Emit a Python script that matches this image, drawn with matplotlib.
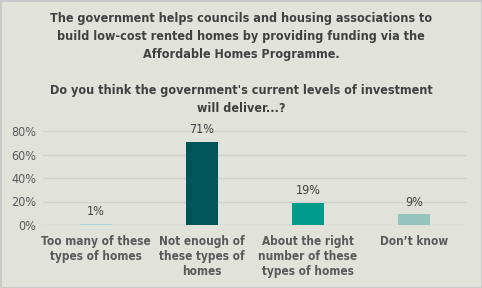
import matplotlib
matplotlib.use("Agg")
import matplotlib.pyplot as plt
from matplotlib.patches import Rectangle

categories = ["Too many of these\ntypes of homes", "Not enough of\nthese types of\nhomes",
              "About the right\nnumber of these\ntypes of homes", "Don’t know"]
values = [1, 71, 19, 9]
labels = ["1%", "71%", "19%", "9%"]
colors = ["#A9D6DA", "#00555A", "#009B8A", "#96C3BC"]
yticks = [0, 20, 40, 60, 80]
title = ("The government helps councils and housing associations to\n"
         "build low-cost rented homes by providing funding via the\n"
         "Affordable Homes Programme.\n\n"
         "Do you think the government's current levels of investment\n"
         "will deliver...?")

bg = "#E1E3DB"
plt.rcParams['font.family'] = ['DejaVu Sans']
fig = plt.figure(figsize=(4.82, 2.88), dpi=100, facecolor=bg)
fig.patches.append(Rectangle((0, 0), 1, 1, transform=fig.transFigure, fill=False,
                             edgecolor="#C8C8C8", linewidth=2))
ax = fig.add_axes([43/482, 1-225/288, 424/482, (225-131)/288*1.0])
ax.set_facecolor(bg)
x = list(range(len(values)))
ax.bar(x, values, width=0.31, color=colors, zorder=3)
ax.set_xlim(-0.5, 3.5)
ax.set_ylim(0, 80)
ax.set_yticks(yticks)
ax.set_yticklabels([f"{t}%" for t in yticks], color="#595959", fontsize=9, fontstretch='condensed')
ax.set_xticks(x)
ax.set_xticklabels(categories, color="#595959", fontsize=8.5, fontweight="bold", linespacing=1.2,
                   fontstretch='condensed')
ax.tick_params(length=0, pad=7)
ax.tick_params(axis='y', pad=5)
ax.grid(axis='y', color="#D0D2CB", linewidth=1, zorder=0)
for s in ax.spines.values():
    s.set_visible(False)
for xi, v, l in zip(x, values, labels):
    ax.annotate(l, (xi, v), xytext=(0, 4), textcoords="offset points", ha="center",
                va="bottom", fontsize=9, color="#404040", fontstretch='condensed')
fig.text(0.5, 1-12/288, title, ha="center", va="top", fontsize=9, fontweight="bold",
         color="#404040", linespacing=1.5, fontstretch='condensed')
fig.savefig("out.png", dpi=100, facecolor=bg)
